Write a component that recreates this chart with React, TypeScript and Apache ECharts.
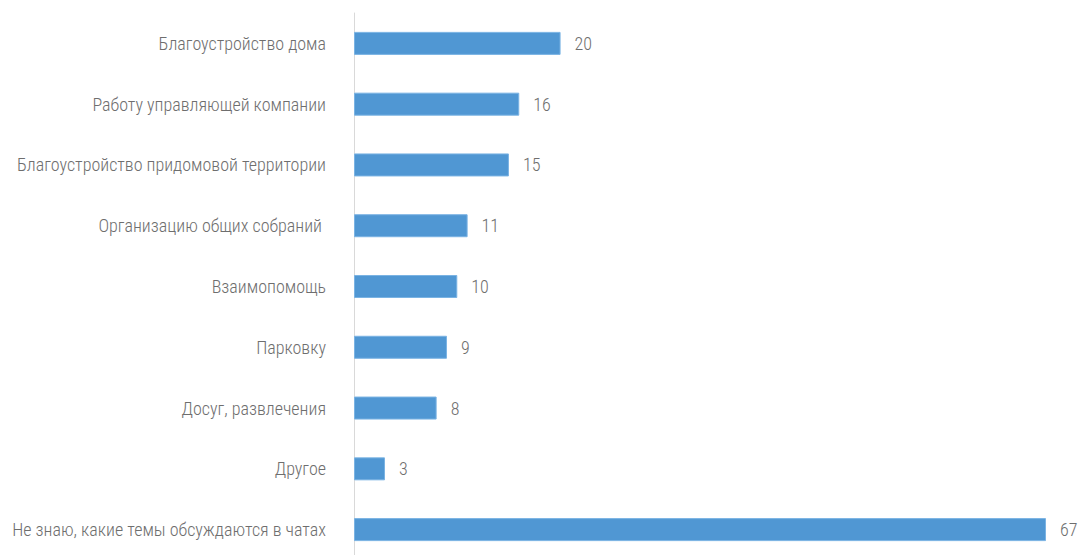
import React, { useEffect, useRef } from "react";
import * as echarts from "echarts";

const categories = [
  "Благоустройство дома",
  "Работу управляющей компании",
  "Благоустройство придомовой территории",
  "Организацию общих собраний ",
  "Взаимопомощь",
  "Парковку",
  "Досуг, развлечения",
  "Другое",
  "Не знаю, какие темы обсуждаются в чатах",
];
const values = [20, 16, 15, 11, 10, 9, 8, 3, 67];

const FONT = "'Roboto Condensed'";

export default function App() {
  const ref = useRef<HTMLDivElement>(null);
  useEffect(() => {
    if (!ref.current) return;
    const chart = echarts.init(ref.current, undefined, { renderer: "svg" });
    chart.setOption({
      animation: false,
      grid: { left: 354, right: 6, top: 13, height: 547, containLabel: false },
      xAxis: {
        type: "value",
        min: 0,
        max: 70,
        show: false,
      },
      yAxis: {
        type: "category",
        data: categories,
        inverse: true,
        axisLine: { show: true, lineStyle: { color: "#d9d9d9", width: 1 } },
        axisTick: { show: false },
        axisLabel: {
          color: "#6e6e6e",
          fontSize: 18,
          fontWeight: 300,
          fontFamily: FONT,
          margin: 28,
        },
      },
      series: [
        {
          type: "bar",
          data: values,
          barWidth: 23,
          itemStyle: { color: "#5097d3", borderColor: "#7ab3e3", borderWidth: 1 },
          label: {
            show: true,
            position: "right",
            distance: 14,
            color: "#6e6e6e",
            fontSize: 18,
            fontWeight: 300,
            fontFamily: FONT,
          },
        },
      ],
    });
    return () => chart.dispose();
  }, []);
  return <div ref={ref} style={{ width: 1083, height: 580, position: "absolute", left: 0, top: 0 }} />;
}
